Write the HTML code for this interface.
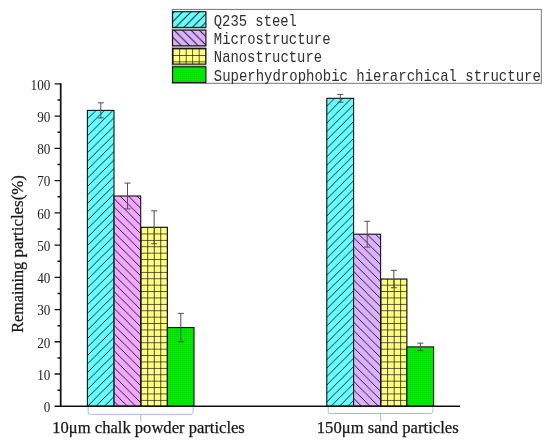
<!DOCTYPE html>
<html><head><meta charset="utf-8"><title>Remaining particles</title>
<style>
html,body{margin:0;padding:0;background:#fff;}
body{width:550px;height:447px;overflow:hidden;}
svg{display:block;}
.t{font-family:"Liberation Serif","Noto Serif CJK SC",serif;fill:#161616;stroke:#161616;stroke-width:0.25;}
.k{font-family:"Liberation Serif","Noto Serif CJK SC",serif;fill:#222;}
.m{font-family:"Liberation Mono","Noto Serif CJK SC",monospace;fill:#303030;}
</style></head><body>
<svg width="550" height="447" viewBox="0 0 550 447">
<defs>
<pattern id="b0" patternUnits="userSpaceOnUse" width="8.45" height="8.45" x="3.60" y="0"><rect width="8.45" height="8.45" fill="#6ff"/><path d="M-1,9.45 L9.45,-1 M-1,1 L1,-1 M7.449999999999999,9.45 L9.45,7.449999999999999" stroke="#151515" stroke-width="0.92" fill="none"/></pattern>
<pattern id="b1" patternUnits="userSpaceOnUse" width="8.45" height="8.45" x="0.00" y="0"><rect width="8.45" height="8.45" fill="#f2a8ff"/><path d="M-1,-1 L9.45,9.45 M-1,7.449999999999999 L1,9.45 M7.449999999999999,-1 L9.45,1" stroke="#151515" stroke-width="0.92" fill="none"/></pattern>
<pattern id="b2" patternUnits="userSpaceOnUse" width="6.520" height="6.4" x="140.75" y="406.30"><rect width="6.520" height="6.4" fill="#ffff80"/><path d="M0,0 H6.520 M0,0 V6.4" stroke="#151515" stroke-width="1.5" fill="none"/></pattern>
<pattern id="b4" patternUnits="userSpaceOnUse" width="8.45" height="8.45" x="2.00" y="0"><rect width="8.45" height="8.45" fill="#6ff"/><path d="M-1,9.45 L9.45,-1 M-1,1 L1,-1 M7.449999999999999,9.45 L9.45,7.449999999999999" stroke="#151515" stroke-width="0.92" fill="none"/></pattern>
<pattern id="b5" patternUnits="userSpaceOnUse" width="8.45" height="8.45" x="6.10" y="0"><rect width="8.45" height="8.45" fill="#dcb2ff"/><path d="M-1,-1 L9.45,9.45 M-1,7.449999999999999 L1,9.45 M7.449999999999999,-1 L9.45,1" stroke="#151515" stroke-width="0.92" fill="none"/></pattern>
<pattern id="b6" patternUnits="userSpaceOnUse" width="6.520" height="6.4" x="380.65" y="406.30"><rect width="6.520" height="6.4" fill="#ffff80"/><path d="M0,0 H6.520 M0,0 V6.4" stroke="#151515" stroke-width="1.5" fill="none"/></pattern>
<pattern id="hg" patternUnits="userSpaceOnUse" width="2" height="2"><rect width="2" height="2" fill="#04ee04"/><path d="M0,0 H2 M0,0 V2" stroke="#00d000" stroke-width="0.6" fill="none"/></pattern>
<pattern id="lc" patternUnits="userSpaceOnUse" width="8.45" height="8.45" x="0.05" y="0"><rect width="8.45" height="8.45" fill="#6ff"/><path d="M-1,9.45 L9.45,-1 M-1,1 L1,-1 M7.449999999999999,9.45 L9.45,7.449999999999999" stroke="#151515" stroke-width="0.95" fill="none"/></pattern>
<pattern id="lp" patternUnits="userSpaceOnUse" width="8.45" height="8.45" x="0.30" y="0"><rect width="8.45" height="8.45" fill="#dcb2ff"/><path d="M-1,-1 L9.45,9.45 M-1,7.449999999999999 L1,9.45 M7.449999999999999,-1 L9.45,1" stroke="#151515" stroke-width="0.95" fill="none"/></pattern>
<pattern id="ly" patternUnits="userSpaceOnUse" width="6.500" height="6.4" x="172.70" y="48.60"><rect width="6.500" height="6.4" fill="#ffff80"/><path d="M0,0 H6.500 M0,0 V6.4" stroke="#151515" stroke-width="1.4" fill="none"/></pattern>
</defs>
<rect width="550" height="447" fill="#fff"/>
<rect x="87.40" y="110.40" width="26.60" height="295.80" fill="url(#b0)" stroke="#111" stroke-width="1.1"/>
<rect x="114.10" y="196.00" width="26.60" height="210.20" fill="url(#b1)" stroke="#111" stroke-width="1.1"/>
<rect x="140.70" y="227.27" width="26.70" height="178.93" fill="url(#b2)" stroke="#111" stroke-width="1.1"/>
<rect x="167.40" y="327.53" width="26.60" height="78.67" fill="url(#hg)" stroke="#111" stroke-width="1.1"/>
<rect x="326.80" y="98.31" width="26.80" height="307.89" fill="url(#b4)" stroke="#111" stroke-width="1.1"/>
<rect x="353.60" y="234.20" width="27.00" height="172.00" fill="url(#b5)" stroke="#111" stroke-width="1.1"/>
<rect x="380.60" y="279.01" width="26.30" height="127.19" fill="url(#b6)" stroke="#111" stroke-width="1.1"/>
<rect x="406.90" y="346.88" width="26.70" height="59.32" fill="url(#hg)" stroke="#111" stroke-width="1.1"/>
<path d="M100.80,102.82 V117.97 M97.80,102.82 h6 M97.80,117.97 h6" stroke="#505050" stroke-width="1" fill="none"/>
<path d="M127.50,183.10 V208.89 M124.50,183.10 h6 M124.50,208.89 h6" stroke="#505050" stroke-width="1" fill="none"/>
<path d="M154.15,210.83 V243.71 M151.15,210.83 h6 M151.15,243.71 h6" stroke="#505050" stroke-width="1" fill="none"/>
<path d="M180.80,313.35 V341.72 M177.80,313.35 h6 M177.80,341.72 h6" stroke="#505050" stroke-width="1" fill="none"/>
<path d="M340.30,94.44 V102.18 M337.30,94.44 h6 M337.30,102.18 h6" stroke="#505050" stroke-width="1" fill="none"/>
<path d="M367.20,221.30 V247.10 M364.20,221.30 h6 M364.20,247.10 h6" stroke="#505050" stroke-width="1" fill="none"/>
<path d="M393.85,270.31 V287.72 M390.85,270.31 h6 M390.85,287.72 h6" stroke="#505050" stroke-width="1" fill="none"/>
<path d="M420.35,343.14 V350.62 M417.35,343.14 h6 M417.35,350.62 h6" stroke="#505050" stroke-width="1" fill="none"/>
<path d="M60.7,83.30 V406.90" stroke="#111" stroke-width="1.75" fill="none"/>
<path d="M54.6,406.2 H460" stroke="#111" stroke-width="1.45" fill="none"/>
<path d="M54.6,374.06 H60.7 M54.6,341.82 H60.7 M54.6,309.58 H60.7 M54.6,277.34 H60.7 M54.6,245.10 H60.7 M54.6,212.86 H60.7 M54.6,180.62 H60.7 M54.6,148.38 H60.7 M54.6,116.14 H60.7 M54.6,83.90 H60.7 M57.5,390.18 H60.7 M57.5,357.94 H60.7 M57.5,325.70 H60.7 M57.5,293.46 H60.7 M57.5,261.22 H60.7 M57.5,228.98 H60.7 M57.5,196.74 H60.7 M57.5,164.50 H60.7 M57.5,132.26 H60.7 M57.5,100.02 H60.7" stroke="#111" stroke-width="1.4" fill="none"/>
<text class="k" transform="translate(50.3,412.00) scale(0.97,1)" font-size="13.6" text-anchor="end">0</text>
<text class="k" transform="translate(50.3,379.76) scale(0.97,1)" font-size="13.6" text-anchor="end">10</text>
<text class="k" transform="translate(50.3,347.52) scale(0.97,1)" font-size="13.6" text-anchor="end">20</text>
<text class="k" transform="translate(50.3,315.28) scale(0.97,1)" font-size="13.6" text-anchor="end">30</text>
<text class="k" transform="translate(50.3,283.04) scale(0.97,1)" font-size="13.6" text-anchor="end">40</text>
<text class="k" transform="translate(50.3,250.80) scale(0.97,1)" font-size="13.6" text-anchor="end">50</text>
<text class="k" transform="translate(50.3,218.56) scale(0.97,1)" font-size="13.6" text-anchor="end">60</text>
<text class="k" transform="translate(50.3,186.32) scale(0.97,1)" font-size="13.6" text-anchor="end">70</text>
<text class="k" transform="translate(50.3,154.08) scale(0.97,1)" font-size="13.6" text-anchor="end">80</text>
<text class="k" transform="translate(50.3,121.84) scale(0.97,1)" font-size="13.6" text-anchor="end">90</text>
<text class="k" transform="translate(50.3,89.60) scale(0.97,1)" font-size="13.6" text-anchor="end">100</text>
<g transform="translate(22.8,332.7) rotate(-90)"><text class="t" x="0" y="0" font-size="16.4" textLength="70.9" lengthAdjust="spacingAndGlyphs">Remaining</text><text class="t" x="75.3" y="0" font-size="16.4" textLength="82.3" lengthAdjust="spacingAndGlyphs">particles(%)</text></g>
<path d="M88.2,407 V413.1 Q88.2,414.3 89.4,414.3 H191.6 L193.1,412.6 V407 M140.8,414.3 V421.6" stroke="#98afe4" stroke-width="0.85" fill="none"/>
<path d="M328.2,407 V412.3 Q328.2,413.5 329.4,413.5 H431.5 L433,411.8 V407 M380.7,413.5 V421.2" stroke="#98afe4" stroke-width="0.85" fill="none"/>
<text class="t" x="52.3" y="433.2" font-size="17.2" textLength="192.5" lengthAdjust="spacingAndGlyphs">10μm chalk powder particles</text>
<text class="t" x="316.8" y="433.2" font-size="17.2" textLength="141.8" lengthAdjust="spacingAndGlyphs">150μm sand particles</text>
<rect x="172.3" y="9.4" width="369" height="73.9" fill="#fff" stroke="#747474" stroke-width="1"/>
<rect x="172.6" y="12" width="33.6" height="70" fill="#c4c4c4"/>
<rect x="172.6" y="11.7" width="33.3" height="15.7" fill="url(#lc)" stroke="#111" stroke-width="1.1"/>
<rect x="172.6" y="30.1" width="33.3" height="15.7" fill="url(#lp)" stroke="#111" stroke-width="1.1"/>
<rect x="172.6" y="48.4" width="33.3" height="15.7" fill="url(#ly)" stroke="#111" stroke-width="1.1"/>
<rect x="172.6" y="66.8" width="33.3" height="15.7" fill="url(#hg)" stroke="#111" stroke-width="1.1"/>
<text class="m" x="213.8" y="25.60" font-size="17" textLength="83.1" lengthAdjust="spacingAndGlyphs">Q235 steel</text>
<text class="m" x="213.8" y="43.93" font-size="17" textLength="116.7" lengthAdjust="spacingAndGlyphs">Microstructure</text>
<text class="m" x="213.8" y="62.26" font-size="17" textLength="108.3" lengthAdjust="spacingAndGlyphs">Nanostructure</text>
<text class="m" x="213.8" y="80.59" font-size="17" textLength="327.0" lengthAdjust="spacingAndGlyphs">Superhydrophobic hierarchical structure</text>
</svg></body></html>
